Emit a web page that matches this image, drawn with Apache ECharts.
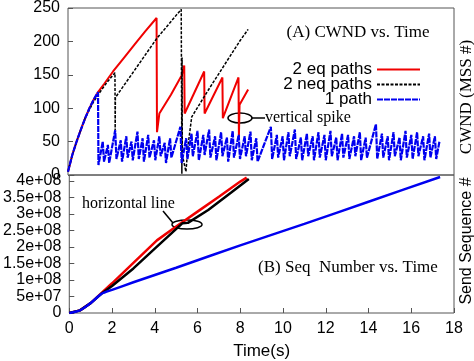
<!DOCTYPE html>
<html><head><meta charset="utf-8">
<script src="https://cdn.jsdelivr.net/npm/echarts@6/dist/echarts.min.js"></script>
<style>html,body{margin:0;padding:0;background:#fff}#c{width:474px;height:361px}</style>
</head><body><div id="c"></div>
<script>
// ---- data: top panel, CWND (MSS #) vs time (s) ----
var cwndEq = [[0,5],[0.2,30],[0.4,50],[0.6,68],[0.8,85],[1.0,100],[1.2,113],[1.4,124],[1.7,137],[2.1,155],[2.6,175],[3.1,195],[3.6,215],[4.13,235],[4.15,64],[4.26,92],[4.8,120],[5.3,149],[5.42,164],[5.44,92],[6.35,155],[6.37,92],[7.2,146],[7.22,85],[7.95,146],[7.97,57],[8.0,105],[8.4,128]];
var cwndNeq = [[0,5],[0.2,30],[0.4,50],[0.6,68],[0.8,85],[1.0,98],[1.2,110],[1.4,120],[1.8,138],[2.19,153],[2.2,67],[2.21,116],[3.0,152],[4.13,204],[5.28,248],[5.31,2],[5.32,176],[5.33,30],[5.5,5],[5.6,45],[5.77,87],[6.5,125],[7.56,178],[8.02,201],[8.4,218]];
var cwndOne = [[0,5],[0.2,30],[0.4,50],[0.6,68],[0.8,85],[1.0,100],[1.2,113],[1.4,124],[1.42,15],
[1.62,50],[1.68,20],[1.86,45],[1.92,18],[2.2,67],[2.26,24],[2.46,52],[2.52,20],[2.72,58],[2.78,26],[2.96,50],[3.02,22],[3.24,65],[3.30,24],[3.48,55],[3.54,20],[3.74,60],[3.80,26],[4.01,52],[4.07,22],[4.26,58],[4.32,28],[4.51,48],[4.57,18],[4.76,55],[4.82,26],[5.24,72],[5.30,18],[5.51,55],[5.57,24],[5.76,62],[5.82,28],[6.04,66],[6.10,22],[6.31,60],[6.37,30],[6.58,68],[6.64,26],[6.86,58],[6.92,22],[7.14,64],[7.20,28],[7.41,56],[7.47,20],[7.68,66],[7.74,26],[7.96,60],[8.02,24],[8.24,58],[8.30,28],[8.51,65],[8.57,22],[8.78,55],[8.84,20],[9.46,72],[9.52,24],[9.74,60],[9.80,26],[10.01,58],[10.07,22],[10.28,64],[10.34,28],[10.58,68],[10.64,24],[10.86,56],[10.92,22],[11.14,62],[11.20,28],[11.41,58],[11.47,22],[11.68,64],[11.74,26],[11.96,60],[12.02,22],[12.24,66],[12.30,28],[12.51,56],[12.57,22],[12.78,62],[12.84,26],[13.06,60],[13.12,24],[13.34,58],[13.40,28],[13.61,64],[13.67,22],[13.88,56],[13.94,26],[14.36,76],[14.42,24],[14.64,62],[14.70,26],[14.91,58],[14.97,22],[15.18,64],[15.24,28],[15.46,56],[15.52,22],[15.74,66],[15.80,26],[16.01,60],[16.07,24],[16.28,64],[16.34,28],[16.56,58],[16.62,22],[16.84,62],[16.90,26],[17.11,58],[17.17,24],[17.32,50]];
// ---- data: bottom panel, send sequence # vs time (s) ----
var seqEq = [[0,0],[0.5,0.08e8],[1.0,0.3e8],[1.5,0.6e8],[2.0,0.9e8],[3.0,1.52e8],[4.1,2.2e8],[5.0,2.62e8],[6.0,3.07e8],[7.0,3.52e8],[8.0,3.98e8],[8.3,4.1e8]];
var seqNeq = [[0,0],[0.5,0.08e8],[1.0,0.3e8],[1.5,0.58e8],[2.0,0.82e8],[3.0,1.35e8],[4.0,1.95e8],[5.3,2.72e8],[5.55,2.73e8],[6.5,3.12e8],[7.56,3.64e8],[8.4,4.06e8]];
var seqOne = [[0,0],[0.5,0.08e8],[1.0,0.3e8],[1.5,0.58e8],[2.0,0.7e8],[3.0,0.93e8],[5.0,1.37e8],[8.0,2.05e8],[11.0,2.7e8],[14.0,3.37e8],[17.35,4.12e8]];
var xTicks = {min:0, max:18, interval:2};
var topY = {min:0, max:250, interval:50};
var botY = {min:0, max:4.18e8, interval:5e7};
var names = ['2 eq paths','2 neq paths','1 path'];

var sans = 'Liberation Sans';
function expFmt(v){
  if (v === 0) return '0';
  if (Math.abs(v/5e7 - Math.round(v/5e7)) > 1e-6) return '';
  var e = Math.floor(Math.log10(v) + 1e-9);
  var m = Math.round(v/Math.pow(10,e)*100)/100;
  return m + 'e+' + (e < 10 ? '0' + e : e);
}
var chart = echarts.init(document.getElementById('c'), null, {renderer:'canvas'});
var lab = {fontFamily:sans, fontSize:16, color:'#000'};
var legBase = function(name, top){
  return {data:[name], right:53, top:top, orient:'vertical', align:'right', itemWidth:43, itemHeight:14,
    itemGap:0, padding:0, itemStyle:{opacity:0}, textStyle:{fontFamily:sans, fontSize:17, color:'#000'}};
};
chart.setOption({
  animation:false,
  grid:[
    {left:68, right:20, top:7, height:168, show:true, borderColor:'#555', borderWidth:1},
    {left:68, right:20, top:175, height:138, show:true, borderColor:'#555', borderWidth:1}
  ],
  xAxis:[
    {gridIndex:0, type:'value', min:xTicks.min, max:xTicks.max, interval:xTicks.interval,
     axisLine:{show:false}, axisTick:{show:false}, axisLabel:{show:false}, splitLine:{show:false}},
    {gridIndex:1, type:'value', min:xTicks.min, max:xTicks.max, interval:xTicks.interval,
     axisLine:{show:false}, axisTick:{show:true, inside:true, length:5, lineStyle:{color:'#555'}},
     axisLabel:Object.assign({margin:8}, lab), splitLine:{show:false},
     name:'Time(s)', nameLocation:'middle', nameGap:30, nameTextStyle:{fontFamily:sans, fontSize:17, color:'#000'}}
  ],
  yAxis:[
    {gridIndex:0, type:'value', min:topY.min, max:topY.max, interval:topY.interval,
     axisLine:{show:false}, axisTick:{show:true, inside:true, length:5, lineStyle:{color:'#555'}},
     axisLabel:Object.assign({margin:8}, lab), splitLine:{show:false}},
    {gridIndex:1, type:'value', min:botY.min, max:botY.max, interval:botY.interval,
     axisLine:{show:false}, axisTick:{show:true, inside:true, length:5, lineStyle:{color:'#555'}},
     axisLabel:Object.assign({margin:8, formatter:expFmt}, lab), splitLine:{show:false}}
  ],
  legend:[legBase(names[0],61), legBase(names[1],76), legBase(names[2],91)],
  series:[
    {name:names[0], type:'line', xAxisIndex:0, yAxisIndex:0, data:cwndEq, symbol:'none', lineStyle:{color:'#f00000', width:2}, itemStyle:{color:'#f00000'}},
    {name:names[1], type:'line', xAxisIndex:0, yAxisIndex:0, data:cwndNeq, symbol:'none', lineStyle:{color:'#000', width:1.5, type:[3,1.5]}, itemStyle:{color:'#000'}},
    {name:names[2], type:'line', xAxisIndex:0, yAxisIndex:0, data:cwndOne, symbol:'none', lineStyle:{color:'#0000f0', width:2.2, type:[6,1]}, itemStyle:{color:'#0000f0'}},
    {name:'seq eq', type:'line', xAxisIndex:1, yAxisIndex:1, data:seqEq, symbol:'none', lineStyle:{color:'#f00000', width:2.5}},
    {name:'seq neq', type:'line', xAxisIndex:1, yAxisIndex:1, data:seqNeq, symbol:'none', lineStyle:{color:'#000', width:2.5}},
    {name:'seq one', type:'line', xAxisIndex:1, yAxisIndex:1, data:seqOne, symbol:'none', smooth:0.2, lineStyle:{color:'#0000f0', width:2.5}}
  ],
  graphic:[
    {type:'text', x:358, y:33, style:{text:'(A) CWND vs. Time', font:'17px "Liberation Serif"', fill:'#000', textAlign:'center', textVerticalAlign:'middle'}},
    {type:'text', x:348, y:268, style:{text:'(B) Seq  Number vs. Time', font:'17px "Liberation Serif"', fill:'#000', textAlign:'center', textVerticalAlign:'middle'}},
    {type:'text', x:265, y:118, style:{text:'vertical spike', font:'16px "Liberation Serif"', fill:'#000', textAlign:'left', textVerticalAlign:'middle'}},
    {type:'text', x:82, y:204, style:{text:'horizontal line', font:'16px "Liberation Serif"', fill:'#000', textAlign:'left', textVerticalAlign:'middle'}},
    {type:'ellipse', shape:{cx:240, cy:118, rx:12, ry:5}, style:{fill:'none', stroke:'#000', lineWidth:1.5}},
    {type:'line', shape:{x1:252, y1:118, x2:265, y2:118}, style:{stroke:'#000', lineWidth:1.5}},
    {type:'ellipse', shape:{cx:187, cy:224.5, rx:15, ry:4.5}, style:{fill:'none', stroke:'#000', lineWidth:1.5}},
    {type:'line', shape:{x1:163, y1:211, x2:173, y2:223}, style:{stroke:'#000', lineWidth:1.5}},
    {type:'text', x:467, y:97, rotation:Math.PI/2, style:{text:'CWND (MSS #)', font:'17px "Liberation Serif"', fill:'#000', textAlign:'center', textVerticalAlign:'middle'}},
    {type:'text', x:467, y:241, rotation:Math.PI/2, style:{text:'Send Sequence #', font:'16px "Liberation Sans"', fill:'#000', textAlign:'center', textVerticalAlign:'middle'}}
  ]
});
</script></body></html>
